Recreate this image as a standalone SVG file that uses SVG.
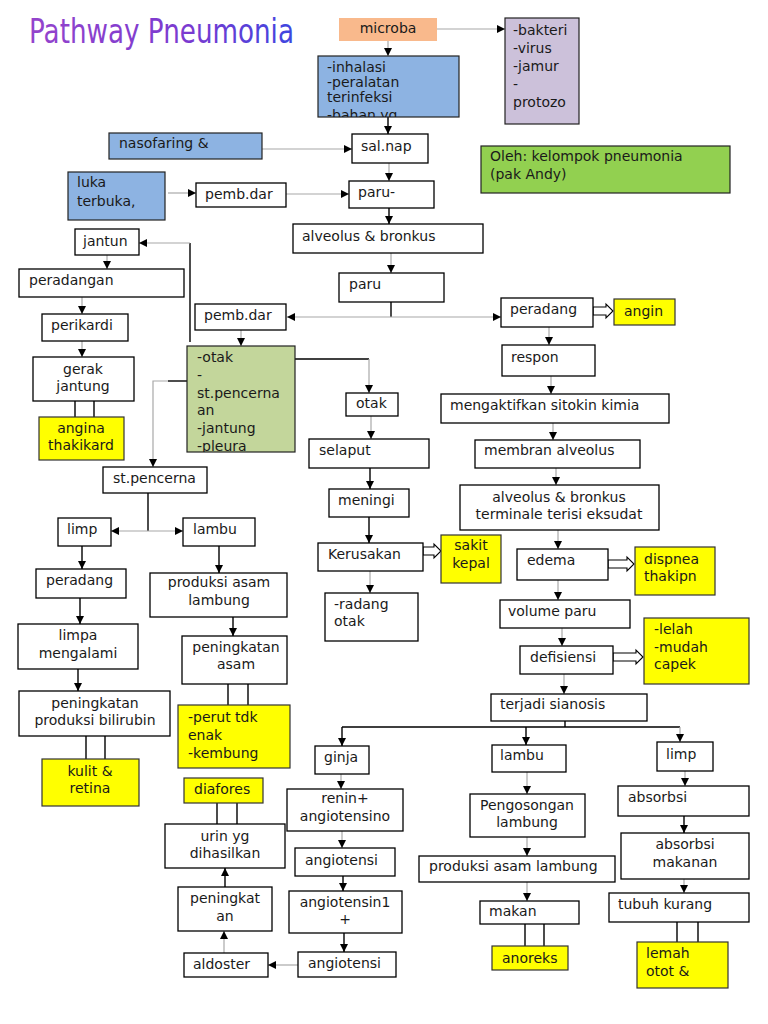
<svg xmlns="http://www.w3.org/2000/svg" width="768" height="1024" viewBox="0 0 768 1024">
<style>
.b{fill:#fff;stroke:#000;stroke-width:1.3}
.y{fill:#ffff00;stroke:#333;stroke-width:1.2}
.bl{fill:#8db3e2;stroke:#222;stroke-width:1.2}
.t{font-family:"DejaVu Sans",Verdana,sans-serif;font-size:14px;fill:#1a1a1a}
.m{text-anchor:middle}
.g{stroke:#a8a8a8;stroke-width:1.2;fill:none}
.k{stroke:#000;stroke-width:1.4;fill:none}
.h{fill:#fff;stroke:#000;stroke-width:1.1}
</style>
<defs>
<marker id="a" viewBox="0 0 10 10" refX="10" refY="5" markerWidth="8" markerHeight="8" markerUnits="userSpaceOnUse" orient="auto-start-reverse"><path d="M0,0 L10,5 L0,10 z" fill="#000"/></marker>
<linearGradient id="tg" gradientUnits="userSpaceOnUse" x1="0" y1="0" x2="267" y2="0"><stop offset="0" stop-color="#9444cc"/><stop offset="0.6" stop-color="#7a3ad0"/><stop offset="1" stop-color="#3c46e0"/></linearGradient>
<clipPath id="cInh"><rect x="318" y="56" width="141" height="61"/></clipPath>
<clipPath id="cGr"><rect x="187" y="346" width="108" height="106"/></clipPath>
</defs>

<g id="title" transform="translate(29,43) scale(1,1.3)"><text x="0" y="0" font-family="DejaVu Sans,Verdana,sans-serif" font-size="26.2" fill="url(#tg)">Pathway Pneumonia</text></g>

<g id="connectors">
<path class="g" d="M437,29 H505" marker-end="url(#a)"/>
<path class="g" d="M388,41 V56" marker-end="url(#a)"/>
<path class="k" d="M388,117 V134" marker-end="url(#a)"/>
<path class="g" d="M262,149 H352" marker-end="url(#a)"/>
<path class="g" d="M389,163 V181" marker-end="url(#a)"/>
<path class="g" d="M168,193 H196" marker-end="url(#a)"/>
<path class="g" d="M286,194 H349" marker-end="url(#a)"/>
<path class="k" d="M389,208 V224" marker-end="url(#a)"/>
<path class="g" d="M391,253 V273" marker-end="url(#a)"/>
<path class="k" d="M391,302 V317"/>
<path class="g" d="M287,317 H501" marker-start="url(#a)" marker-end="url(#a)"/>
<path class="k" d="M190,342 V243"/>
<path class="g" d="M190,243 H139" marker-end="url(#a)"/>
<path class="g" d="M107,255 V269" marker-end="url(#a)"/>
<path class="g" d="M82,297 V314" marker-end="url(#a)"/>
<path class="g" d="M82,341 V357" marker-end="url(#a)"/>
<path class="k" d="M75,401 V417 M94,401 V417"/>
<path class="g" d="M241,330 V346" marker-end="url(#a)"/>
<path class="k" d="M295,359 H369"/>
<path class="g" d="M369,359 V393" marker-end="url(#a)"/>
<path class="k" d="M187,381 H168"/>
<path class="g" d="M168,381 H153 V467" marker-end="url(#a)"/>
<path class="g" d="M371,416 V439" marker-end="url(#a)"/>
<path class="k" d="M370,468 V489" marker-end="url(#a)"/>
<path class="k" d="M369,517 V543" marker-end="url(#a)"/>
<path class="g" d="M370,571 V593" marker-end="url(#a)"/>
<path class="g" d="M549,327 V345" marker-end="url(#a)"/>
<path class="g" d="M551,376 V394" marker-end="url(#a)"/>
<path class="g" d="M553,423 V440" marker-end="url(#a)"/>
<path class="g" d="M556,468 V485" marker-end="url(#a)"/>
<path class="g" d="M558,530 V549" marker-end="url(#a)"/>
<path class="g" d="M558,580 V600" marker-end="url(#a)"/>
<path class="g" d="M562,628 V646" marker-end="url(#a)"/>
<path class="g" d="M564,674 V694" marker-end="url(#a)"/>
<path class="k" d="M565,721 V727 M342,727 H680"/>
<path class="k" d="M342,727 V746" marker-end="url(#a)"/>
<path class="k" d="M526,727 V745" marker-end="url(#a)"/>
<path class="g" d="M680,727 V742" marker-end="url(#a)"/>
<path class="g" d="M341,774 V789" marker-end="url(#a)"/>
<path class="g" d="M342,831 V848" marker-end="url(#a)"/>
<path class="k" d="M343,876 V891" marker-end="url(#a)"/>
<path class="k" d="M344,933 V952" marker-end="url(#a)"/>
<path class="g" d="M298,965 H268" marker-end="url(#a)"/>
<path class="g" d="M224,953 V931" marker-end="url(#a)"/>
<path class="k" d="M225,887 V868" marker-end="url(#a)"/>
<path class="k" d="M217,824 V803 M237,824 V803"/>
<path class="k" d="M148,493 V531"/>
<path class="g" d="M111,531 H183" marker-start="url(#a)" marker-end="url(#a)"/>
<path class="k" d="M82,546 V569" marker-end="url(#a)"/>
<path class="k" d="M80,598 V624" marker-end="url(#a)"/>
<path class="k" d="M78,669 V691" marker-end="url(#a)"/>
<path class="k" d="M86,736 V759 M105,736 V759"/>
<path class="k" d="M219,546 V573" marker-end="url(#a)"/>
<path class="k" d="M233,617 V636" marker-end="url(#a)"/>
<path class="k" d="M228,684 V705 M248,684 V705"/>
<path class="g" d="M527,772 V794" marker-end="url(#a)"/>
<path class="g" d="M527,837 V856" marker-end="url(#a)"/>
<path class="g" d="M527,882 V901" marker-end="url(#a)"/>
<path class="k" d="M525,924 V946 M544,924 V946"/>
<path class="g" d="M685,771 V786" marker-end="url(#a)"/>
<path class="k" d="M684,816 V833" marker-end="url(#a)"/>
<path class="g" d="M684,879 V893" marker-end="url(#a)"/>
<path class="k" d="M677,922 V942 M698,922 V942"/>
<polygon class="h" points="593,307 606,307 606,304 613,311 606,318 606,315 593,315"/>
<polygon class="h" points="423,547 434,547 434,544 441,551 434,558 434,555 423,555"/>
<polygon class="h" points="608,560 627,560 627,557 634,564 627,571 627,568 608,568"/>
<polygon class="h" points="613,653 636,653 636,650 643,657 636,664 636,661 613,661"/>
</g>

<g id="microba"><rect x="339" y="18" width="98" height="23" fill="#f9b98c"/><text class="t m" x="388" y="33">microba</text></g>
<g id="bakteri"><rect x="505" y="18" width="74" height="106" fill="#ccc1da" stroke="#222" stroke-width="1.2"/><text class="t" x="513"><tspan x="513" y="35">-bakteri</tspan><tspan x="513" y="53">-virus</tspan><tspan x="513" y="71">-jamur</tspan><tspan x="513" y="89">-</tspan><tspan x="513" y="107">protozo</tspan></text></g>
<g id="inhalasi"><rect class="bl" x="318" y="56" width="141" height="61"/><text class="t" clip-path="url(#cInh)"><tspan x="327" y="72">-inhalasi</tspan><tspan x="327" y="87">-peralatan</tspan><tspan x="327" y="102">terinfeksi</tspan><tspan x="327" y="120">-bahan yg</tspan></text></g>
<g id="salnap"><rect class="b" x="352" y="134" width="76" height="29"/><text class="t" x="361" y="151">sal.nap</text></g>
<g id="nasofaring"><rect class="bl" x="109" y="133" width="153" height="26"/><text class="t" x="119" y="148">nasofaring &amp;</text></g>
<g id="luka"><rect class="bl" x="68" y="172" width="97" height="48"/><text class="t"><tspan x="77" y="187">luka</tspan><tspan x="77" y="206">terbuka,</tspan></text></g>
<g id="pembdar1"><rect class="b" x="196" y="183" width="90" height="24"/><text class="t" x="205" y="199">pemb.dar</text></g>
<g id="parumin"><rect class="b" x="349" y="181" width="85" height="27"/><text class="t" x="358" y="197">paru-</text></g>
<g id="oleh"><rect x="481" y="146" width="249" height="47" fill="#92d050" stroke="#222" stroke-width="1.2"/><text class="t"><tspan x="490" y="161">Oleh: kelompok pneumonia</tspan><tspan x="490" y="179">(pak Andy)</tspan></text></g>
<g id="alveolus1"><rect class="b" x="293" y="224" width="190" height="29"/><text class="t" x="302" y="241">alveolus &amp; bronkus</text></g>
<g id="paru"><rect class="b" x="339" y="273" width="105" height="29"/><text class="t" x="349" y="289">paru</text></g>
<g id="jantun"><rect class="b" x="75" y="229" width="64" height="26"/><text class="t" x="83" y="246">jantun</text></g>
<g id="peradangan"><rect class="b" x="19" y="269" width="165" height="28"/><text class="t" x="29" y="285">peradangan</text></g>
<g id="perikardi"><rect class="b" x="42" y="314" width="86" height="27"/><text class="t" x="51" y="330">perikardi</text></g>
<g id="gerak"><rect class="b" x="33" y="357" width="101" height="44"/><text class="t m"><tspan x="83" y="374">gerak</tspan><tspan x="83" y="391">jantung</tspan></text></g>
<g id="angina"><rect class="y" x="39" y="417" width="85" height="43"/><text class="t m"><tspan x="81" y="433">angina</tspan><tspan x="81" y="450">thakikard</tspan></text></g>
<g id="pembdar2"><rect class="b" x="195" y="304" width="91" height="26"/><text class="t" x="204" y="320">pemb.dar</text></g>
<g id="organ"><rect x="187" y="346" width="108" height="106" fill="#c3d69b" stroke="#222" stroke-width="1.2"/><text class="t" clip-path="url(#cGr)"><tspan x="197" y="362">-otak</tspan><tspan x="197" y="380">-</tspan><tspan x="197" y="398">st.pencerna</tspan><tspan x="197" y="415">an</tspan><tspan x="197" y="433">-jantung</tspan><tspan x="197" y="451">-pleura</tspan></text></g>
<g id="stpencerna"><rect class="b" x="103" y="467" width="104" height="26"/><text class="t" x="113" y="483">st.pencerna</text></g>
<g id="otak"><rect class="b" x="346" y="393" width="52" height="23"/><text class="t" x="356" y="408">otak</text></g>
<g id="selaput"><rect class="b" x="309" y="439" width="120" height="29"/><text class="t" x="319" y="455">selaput</text></g>
<g id="meningi"><rect class="b" x="329" y="489" width="80" height="28"/><text class="t" x="338" y="505">meningi</text></g>
<g id="kerusakan"><rect class="b" x="318" y="543" width="105" height="28"/><text class="t" x="328" y="559">Kerusakan</text></g>
<g id="sakit"><rect class="y" x="441" y="535" width="60" height="48"/><text class="t m"><tspan x="471" y="550">sakit</tspan><tspan x="471" y="568">kepal</tspan></text></g>
<g id="radang"><rect class="b" x="325" y="593" width="93" height="48"/><text class="t"><tspan x="334" y="609">-radang</tspan><tspan x="334" y="626">otak</tspan></text></g>
<g id="peradang1"><rect class="b" x="501" y="298" width="92" height="29"/><text class="t" x="510" y="314">peradang</text></g>
<g id="angin"><rect class="y" x="614" y="299" width="61" height="26"/><text class="t" x="624" y="316">angin</text></g>
<g id="respon"><rect class="b" x="502" y="345" width="93" height="31"/><text class="t" x="511" y="362">respon</text></g>
<g id="sitokin"><rect class="b" x="441" y="394" width="228" height="29"/><text class="t" x="450" y="410">mengaktifkan sitokin kimia</text></g>
<g id="membran"><rect class="b" x="475" y="440" width="165" height="28"/><text class="t" x="484" y="455">membran alveolus</text></g>
<g id="alveolus2"><rect class="b" x="460" y="485" width="199" height="45"/><text class="t m"><tspan x="559" y="502">alveolus &amp; bronkus</tspan><tspan x="559" y="519">terminale terisi eksudat</tspan></text></g>
<g id="edema"><rect class="b" x="517" y="549" width="91" height="31"/><text class="t" x="527" y="565">edema</text></g>
<g id="dispnea"><rect class="y" x="635" y="547" width="80" height="48"/><text class="t"><tspan x="644" y="564">dispnea</tspan><tspan x="644" y="581">thakipn</tspan></text></g>
<g id="volume"><rect class="b" x="500" y="600" width="130" height="28"/><text class="t" x="508" y="616">volume paru</text></g>
<g id="defisiensi"><rect class="b" x="520" y="646" width="93" height="28"/><text class="t" x="530" y="662">defisiensi</text></g>
<g id="lelah"><rect class="y" x="644" y="618" width="105" height="66"/><text class="t"><tspan x="654" y="634">-lelah</tspan><tspan x="654" y="652">-mudah</tspan><tspan x="654" y="669">capek</tspan></text></g>
<g id="sianosis"><rect class="b" x="491" y="694" width="156" height="27"/><text class="t" x="500" y="709">terjadi sianosis</text></g>
<g id="ginja"><rect class="b" x="315" y="746" width="54" height="28"/><text class="t" x="324" y="762">ginja</text></g>
<g id="lambu2"><rect class="b" x="492" y="745" width="74" height="27"/><text class="t" x="500" y="760">lambu</text></g>
<g id="limp2"><rect class="b" x="657" y="742" width="56" height="29"/><text class="t" x="666" y="759">limp</text></g>
<g id="renin"><rect class="b" x="287" y="789" width="116" height="42"/><text class="t m"><tspan x="345" y="803">renin+</tspan><tspan x="345" y="821">angiotensino</tspan></text></g>
<g id="angiotensi1"><rect class="b" x="295" y="848" width="100" height="28"/><text class="t" x="305" y="865">angiotensi</text></g>
<g id="angiotensin1"><rect class="b" x="289" y="891" width="113" height="42"/><text class="t m"><tspan x="345" y="907">angiotensin1</tspan><tspan x="345" y="924">+</tspan></text></g>
<g id="angiotensi2"><rect class="b" x="298" y="952" width="98" height="25"/><text class="t" x="308" y="968">angiotensi</text></g>
<g id="aldoster"><rect class="b" x="184" y="953" width="84" height="24"/><text class="t" x="193" y="969">aldoster</text></g>
<g id="peningkatan3"><rect class="b" x="178" y="887" width="94" height="44"/><text class="t m"><tspan x="225" y="903">peningkat</tspan><tspan x="225" y="921">an</tspan></text></g>
<g id="urin"><rect class="b" x="165" y="824" width="120" height="44"/><text class="t m"><tspan x="225" y="841">urin yg</tspan><tspan x="225" y="858">dihasilkan</tspan></text></g>
<g id="diafores"><rect class="y" x="184" y="778" width="79" height="25"/><text class="t" x="194" y="794">diafores</text></g>
<g id="limp1"><rect class="b" x="58" y="518" width="53" height="28"/><text class="t" x="67" y="534">limp</text></g>
<g id="lambu1"><rect class="b" x="183" y="518" width="72" height="28"/><text class="t" x="193" y="534">lambu</text></g>
<g id="peradang2"><rect class="b" x="36" y="569" width="90" height="29"/><text class="t" x="46" y="585">peradang</text></g>
<g id="limpa"><rect class="b" x="18" y="624" width="120" height="45"/><text class="t m"><tspan x="78" y="640">limpa</tspan><tspan x="78" y="658">mengalami</tspan></text></g>
<g id="bilirubin"><rect class="b" x="19" y="691" width="151" height="45"/><text class="t m"><tspan x="95" y="708">peningkatan</tspan><tspan x="95" y="725">produksi bilirubin</tspan></text></g>
<g id="kulit"><rect class="y" x="42" y="759" width="97" height="47"/><text class="t m"><tspan x="90" y="776">kulit &amp;</tspan><tspan x="90" y="793">retina</tspan></text></g>
<g id="produksi1"><rect class="b" x="150" y="573" width="137" height="44"/><text class="t m"><tspan x="219" y="587">produksi asam</tspan><tspan x="219" y="605">lambung</tspan></text></g>
<g id="peningkatan2"><rect class="b" x="182" y="636" width="105" height="48"/><text class="t m"><tspan x="236" y="652">peningkatan</tspan><tspan x="236" y="669">asam</tspan></text></g>
<g id="perut"><rect class="y" x="178" y="705" width="112" height="63"/><text class="t"><tspan x="188" y="722">-perut tdk</tspan><tspan x="188" y="740">enak</tspan><tspan x="188" y="758">-kembung</tspan></text></g>
<g id="pengosongan"><rect class="b" x="470" y="794" width="115" height="43"/><text class="t m"><tspan x="527" y="810">Pengosongan</tspan><tspan x="527" y="827">lambung</tspan></text></g>
<g id="produksi2"><rect class="b" x="419" y="856" width="196" height="26"/><text class="t" x="429" y="871">produksi asam lambung</text></g>
<g id="makan"><rect class="b" x="480" y="901" width="99" height="23"/><text class="t" x="489" y="916">makan</text></g>
<g id="anoreks"><rect class="y" x="492" y="946" width="76" height="24"/><text class="t" x="502" y="963">anoreks</text></g>
<g id="absorbsi1"><rect class="b" x="618" y="786" width="131" height="30"/><text class="t" x="628" y="802">absorbsi</text></g>
<g id="absorbsi2"><rect class="b" x="621" y="833" width="128" height="46"/><text class="t m"><tspan x="685" y="849">absorbsi</tspan><tspan x="685" y="867">makanan</tspan></text></g>
<g id="tubuh"><rect class="b" x="609" y="893" width="140" height="29"/><text class="t" x="618" y="909">tubuh kurang</text></g>
<g id="lemah"><rect class="y" x="637" y="942" width="91" height="46"/><text class="t"><tspan x="646" y="958">lemah</tspan><tspan x="646" y="976">otot &amp;</tspan></text></g>
</svg>
